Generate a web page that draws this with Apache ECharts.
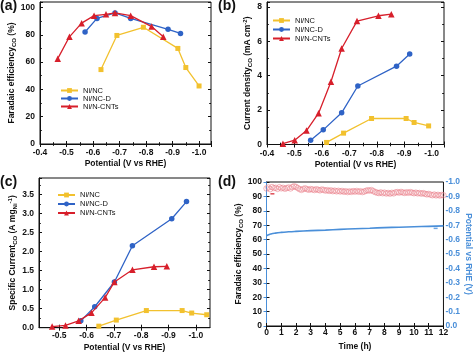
<!DOCTYPE html>
<html><head><meta charset="utf-8">
<script src="https://cdn.jsdelivr.net/npm/echarts@6/dist/echarts.min.js"></script>
<style>html,body{margin:0;padding:0;background:#fff}#c{width:474px;height:353px}</style>
</head><body><div id="c"></div>
<script>
// ---------------- DATA ----------------
const seriesNames = ['Ni/NC', 'Ni/NC-D', 'Ni/N-CNTs'];
// Panel (a): Faradaic efficiency CO (%) vs potential (V vs RHE)
const aPotNC   = [-0.63, -0.69, -0.79, -0.92, -0.95, -1.0];
const aFeNC    = [54.5, 79.5, 85.5, 70, 56, 42.5];
const aPotNCD  = [-0.57, -0.615, -0.683, -0.742, -0.883, -0.93];
const aFeNCD   = [82, 92, 96, 92, 84, 81];
const aPotCNT  = [-0.467, -0.511, -0.557, -0.604, -0.649, -0.683, -0.742, -0.821, -0.865];
const aFeCNT   = [62.5, 78.5, 88.5, 94, 95, 96, 94, 86, 78.5];
// Panel (b): current density CO (mA cm-2)
const bPotNC   = [-0.617, -0.679, -0.781, -0.907, -0.936, -0.989];
const bJNC     = [0.12, 0.66, 1.51, 1.51, 1.28, 1.08];
const bPotNCD  = [-0.559, -0.605, -0.672, -0.731, -0.872, -0.92];
const bJNCD    = [0.25, 0.85, 1.84, 3.40, 4.55, 5.26];
const bPotCNT  = [-0.458, -0.501, -0.544, -0.588, -0.633, -0.672, -0.728, -0.806, -0.853];
const bJCNT    = [0.05, 0.25, 0.81, 1.82, 3.65, 5.58, 7.17, 7.48, 7.57];
// Panel (c): specific current CO (A mgNi-1)
const cPotNC   = [-0.645, -0.709, -0.819, -0.95, -0.985, -1.04];
const cINC     = [0.04, 0.2, 0.45, 0.45, 0.385, 0.34];
const cPotNCD  = [-0.579, -0.63, -0.702, -0.768, -0.912, -0.966];
const cINCD    = [0.18, 0.55, 1.2, 2.15, 2.86, 3.31];
const cPotCNT  = [-0.474, -0.523, -0.571, -0.618, -0.668, -0.702, -0.768, -0.847, -0.894];
const cICNT    = [0.03, 0.06, 0.18, 0.39, 0.79, 1.2, 1.52, 1.6, 1.61];
// Panel (d): stability
const dTime = [0,0.125,0.25,0.375,0.5,0.625,0.75,0.875,1,1.125,1.25,1.375,1.5,1.625,1.75,1.875,2,2.125,2.25,2.375,2.5,2.625,2.75,2.875,3,3.125,3.25,3.375,3.5,3.625,3.75,3.875,4,4.125,4.25,4.375,4.5,4.625,4.75,4.875,5,5.125,5.25,5.375,5.5,5.625,5.75,5.875,6,6.125,6.25,6.375,6.5,6.625,6.75,6.875,7,7.125,7.25,7.375,7.5,7.625,7.75,7.875,8,8.125,8.25,8.375,8.5,8.625,8.75,8.875,9,9.125,9.25,9.375,9.5,9.625,9.75,9.875,10,10.125,10.25,10.375,10.5,10.625,10.75,10.875,11,11.125,11.25,11.375,11.5,11.625,11.75,11.875,12];
const dFE = [95.5,96.2,95.0,96.5,95.8,96.0,95.2,96.4,
             95.6,96.0,95.3,95.8,96.2,95.5,96.5,97.0,
             96.6,95.8,95.0,94.5,95.2,95.6,95.0,94.6,
             95.1,94.8,94.4,95.0,94.6,94.2,94.8,94.5,
             94.0,94.4,93.8,94.2,93.6,94.0,93.5,93.9,
             93.4,93.8,93.2,93.6,93.0,93.5,93.1,93.7,
             93.3,93.8,93.2,93.6,93.0,93.4,93.9,94.3,
             94.0,94.4,93.6,93.0,92.6,92.3,92.8,92.2,
             92.6,92.0,92.4,91.9,92.5,92.1,92.8,93.0,
             92.6,93.1,92.7,92.4,92.9,92.5,93.0,92.6,
             92.2,92.6,92.1,92.4,91.9,92.3,91.8,91.4,
             91.7,91.2,90.8,91.3,90.7,91.1,90.6,91.0,
             90.8];
const dTimeV = [0, 0.1, 0.3, 0.6, 1, 1.5, 2, 3, 4, 5, 6, 7, 8, 9, 10, 11, 12];
const dPotV  = [-0.625, -0.632, -0.639, -0.645, -0.65, -0.654, -0.657, -0.662, -0.666, -0.671, -0.675, -0.679, -0.683, -0.686, -0.689, -0.692, -0.695];
const dStrayFE  = [[0.4, 91.8]];
const dStrayPot = [[11.47, -0.678]];
const potTicks = [-0.4, -0.5, -0.6, -0.7, -0.8, -0.9, -1.0];

// ---------------- STYLE ----------------
const FONT = '"Liberation Sans", Arial, sans-serif';
const INK = '#111';
const COL = {nc: '#f2c12e', ncd: '#2f63c6', cnt: '#d71f2b'};
const SYM = {nc: ['rect', 5], ncd: ['circle', 5.5], cnt: ['triangle', 6.5]};
const lab = (extra) => Object.assign({fontFamily: FONT, fontSize: 8.5, fontWeight: 'bold', color: INK}, extra || {});
const rich = (c) => ({
  b: {fontFamily: FONT, fontSize: 8.5, fontWeight: 'bold', color: c, lineHeight: 11, verticalAlign: 'middle'},
  s: {fontFamily: FONT, fontSize: 6, fontWeight: 'bold', color: c, lineHeight: 6, verticalAlign: 'bottom'},
  p: {fontFamily: FONT, fontSize: 6, fontWeight: 'bold', color: c, lineHeight: 6, verticalAlign: 'top'}
});
const negFmt = v => {
  const k = Math.round(v * 10);
  if (Math.abs(v * 10 - k) > 1e-6) return '';
  return '-' + (k / 10).toFixed(1);
};
const mag = potTicks.map(v => -v);

const xAxes = [], yAxes = [];
function tick(color) { return {show: true, inside: true, length: 3, lineStyle: {color: color || INK, width: 1}}; }
function minor(n, color) { return {show: true, splitNumber: n, length: 1.8, lineStyle: {color: color || INK, width: 1}}; }

function addPanel(g, xc, yc) {
  xAxes.push(Object.assign({
    type: 'value', gridIndex: g, position: 'bottom',
    axisLine: {show: true, lineStyle: {color: INK, width: 1}},
    axisTick: tick(), splitLine: {show: false},
    nameLocation: 'middle', nameTextStyle: lab()
  }, xc.main));
  xAxes.push(Object.assign({
    type: 'value', gridIndex: g, position: 'top',
    axisLine: {show: false}, axisLabel: {show: false},
    axisTick: tick(), splitLine: {show: false}
  }, xc.mirror));
  yAxes.push(Object.assign({
    type: 'value', gridIndex: g, position: 'left',
    axisLine: {show: true, lineStyle: {color: INK, width: 1}},
    axisTick: tick(), splitLine: {show: false},
    nameLocation: 'middle'
  }, yc.main));
  yAxes.push(Object.assign({
    type: 'value', gridIndex: g, position: 'right',
    axisLine: {show: false}, axisLabel: {show: false},
    axisTick: tick(), splitLine: {show: false}
  }, yc.mirror));
}

// panel a
addPanel(0,
  {main: {min: 0.4, max: 1.045, interval: 0.1, minorTick: minor(2),
          axisLabel: lab({margin: 4.5, formatter: negFmt, showMaxLabel: false}),
          name: 'Potential (V vs RHE)', nameGap: 15.5},
   mirror: {min: 0.4, max: 1.045, interval: 0.1, minorTick: minor(2)}},
  {main: {min: 0, max: 104, interval: 20, minorTick: minor(2),
          axisLabel: lab({margin: 5, showMaxLabel: false, formatter: v => (v % 20 === 0 ? String(v) : '')}),
          name: '{b|Faradaic efficiency}{s|CO}{b| (%)}', nameGap: 19.5, nameTextStyle: {rich: rich(INK)}},
   mirror: {min: 0, max: 104, interval: 20, minorTick: minor(2)}});
// panel b
addPanel(1,
  {main: {min: 0.4, max: 1.045, interval: 0.1, minorTick: minor(2),
          axisLabel: lab({margin: 4.5, formatter: negFmt, showMaxLabel: false}),
          name: 'Potential (V vs RHE)', nameGap: 15.5},
   mirror: {min: 0.4, max: 1.045, interval: 0.1, minorTick: minor(2)}},
  {main: {min: 0, max: 8.28, interval: 2, minorTick: minor(2),
          axisLabel: lab({margin: 5, showMaxLabel: false, formatter: v => (Math.abs(v - Math.round(v)) < 1e-6 ? String(Math.round(v)) : '')}),
          name: '{b|Current density}{s|CO}{b| (mA cm}{p|-2}{b|)}', nameGap: 11, nameTextStyle: {rich: rich(INK)}},
   mirror: {min: 0, max: 8.28, interval: 2, minorTick: minor(2)}});
// panel c
const cMag = mag.slice(1);
addPanel(2,
  {main: {min: 0.426, max: 1.052,
          axisTick: Object.assign(tick(), {customValues: cMag}),
          axisLabel: lab({margin: 3, formatter: negFmt, customValues: cMag}),
          name: 'Potential (V vs RHE)', nameGap: 15.3},
   mirror: {min: 0.426, max: 1.052, axisTick: Object.assign(tick(), {customValues: cMag})}},
  {main: {min: 0, max: 3.93, interval: 0.5, minorTick: minor(2),
          axisLabel: lab({margin: 5, showMaxLabel: false, formatter: v => (Math.abs(v * 2 - Math.round(v * 2)) < 1e-6 ? v.toFixed(1) : '')}),
          name: '{b|Specific Current}{s|CO}{b| (A mg}{s|Ni}{p|-1}{b|)}', nameGap: 20.5, nameTextStyle: {rich: rich(INK)}},
   mirror: {min: 0, max: 3.93, interval: 0.5, minorTick: minor(2)}});
// panel d
const BLUE_D = '#4a8fd9';
xAxes.push({type: 'value', gridIndex: 3, position: 'bottom', min: 0, max: 12, interval: 1,
  axisLine: {show: true, lineStyle: {color: INK, width: 1}}, axisTick: tick(), splitLine: {show: false},
  axisLabel: lab({margin: 2.5}), name: 'Time (h)', nameLocation: 'middle', nameGap: 15.8, nameTextStyle: lab()});
xAxes.push({type: 'value', gridIndex: 3, position: 'top', min: 0, max: 12, interval: 1,
  axisLine: {show: false}, axisLabel: {show: false}, axisTick: tick(), splitLine: {show: false}});
yAxes.push({type: 'value', gridIndex: 3, position: 'left', min: 0, max: 100, interval: 10,
  axisLine: {show: true, lineStyle: {color: INK, width: 1}}, axisTick: tick(), splitLine: {show: false},
  axisLabel: lab({margin: 4.5}),
  name: '{b|Faradaic efficiency}{s|CO}{b| (%)}', nameLocation: 'middle', nameGap: 19.5, nameTextStyle: {rich: rich(INK)}});
yAxes.push({type: 'value', gridIndex: 3, position: 'right', min: -1, max: 0, interval: 0.1, inverse: true,
  axisLine: {show: true, lineStyle: {color: BLUE_D, width: 1}}, axisTick: tick(BLUE_D), splitLine: {show: false},
  axisLabel: lab({margin: 2, color: BLUE_D, formatter: v => (Math.abs(v) < 1e-9 ? 0 : v).toFixed(1)}),
  name: 'Potential vs RHE (V)', nameLocation: 'middle', nameGap: 19.5, nameRotate: -90,
  nameTextStyle: lab({color: BLUE_D})});

// ---------------- SERIES ----------------
function pts(xs, ys) { return xs.map((x, i) => [-x, ys[i]]); }
function ser(name, key, xi, data) {
  return {type: 'line', name, xAxisIndex: xi * 2, yAxisIndex: xi * 2, data,
    symbol: SYM[key][0], symbolSize: SYM[key][1], showSymbol: true,
    lineStyle: {color: COL[key], width: 1.3}, itemStyle: {color: COL[key]}, animation: false, z: key === 'cnt' ? 4 : 3};
}
const series = [
  ser('Ni/NC', 'nc', 0, pts(aPotNC, aFeNC)),
  ser('Ni/NC-D', 'ncd', 0, pts(aPotNCD, aFeNCD)),
  ser('Ni/N-CNTs', 'cnt', 0, pts(aPotCNT, aFeCNT)),
  ser('Ni/NC', 'nc', 1, pts(bPotNC, bJNC)),
  ser('Ni/NC-D', 'ncd', 1, pts(bPotNCD, bJNCD)),
  ser('Ni/N-CNTs', 'cnt', 1, pts(bPotCNT, bJCNT)),
  ser('Ni/NC', 'nc', 2, pts(cPotNC, cINC)),
  ser('Ni/NC-D', 'ncd', 2, pts(cPotNCD, cINCD)),
  ser('Ni/N-CNTs', 'cnt', 2, pts(cPotCNT, cICNT)),
  {type: 'scatter', name: 'FE', xAxisIndex: 6, yAxisIndex: 6, data: dTime.map((t, i) => [t, dFE[i]]),
   symbol: 'circle', symbolSize: 5.5, itemStyle: {color: 'rgba(255,255,255,0)', borderColor: '#ea7f8a', borderWidth: 0.7}, animation: false},
  {type: 'line', name: 'Potential', xAxisIndex: 6, yAxisIndex: 7, data: dTimeV.map((t, i) => [t, dPotV[i]]),
   symbol: 'none', smooth: true, lineStyle: {color: BLUE_D, width: 1.6}, animation: false},
  {type: 'scatter', name: 'strayFE', xAxisIndex: 6, yAxisIndex: 6, data: dStrayFE, symbol: 'rect', symbolSize: [4, 1.5],
   itemStyle: {color: '#d71f2b'}, animation: false},
  {type: 'scatter', name: 'strayPot', xAxisIndex: 6, yAxisIndex: 7, data: dStrayPot, symbol: 'rect', symbolSize: [4, 1.5],
   itemStyle: {color: BLUE_D}, animation: false}
];

const legendBase = {orient: 'vertical', itemWidth: 17, itemHeight: 6, padding: 0, data: seriesNames,
  selectedMode: false, textStyle: {fontFamily: FONT, fontSize: 7.5, color: INK, lineHeight: 8}};

const chart = echarts.init(document.getElementById('c'), null, {renderer: 'canvas'});
chart.setOption({
  backgroundColor: '#fff',
  animation: false,
  grid: [
    {left: 40, top: 2, width: 171, height: 142, show: true, borderColor: INK, borderWidth: 1, backgroundColor: 'transparent'},
    {left: 267, top: 2, width: 177, height: 142.5, show: true, borderColor: INK, borderWidth: 1, backgroundColor: 'transparent'},
    {left: 39, top: 178, width: 171, height: 149.7, show: true, borderColor: INK, borderWidth: 1, backgroundColor: 'transparent'},
    {left: 266.5, top: 182, width: 178, height: 144, show: true, borderColor: INK, borderWidth: 1, backgroundColor: 'transparent'}
  ],
  xAxis: xAxes,
  yAxis: yAxes,
  legend: [
    Object.assign({left: 60, top: 86.5, itemGap: 0}, legendBase),
    Object.assign({left: 272, top: 16.5, itemGap: 1}, legendBase),
    Object.assign({left: 57, top: 191, itemGap: 1}, legendBase)
  ],
  series,
  graphic: [
    {type: 'text', left: 0, top: -1, style: {text: '(a)', font: 'bold 14px ' + FONT, fill: INK}},
    {type: 'text', left: 218, top: -1, style: {text: '(b)', font: 'bold 14px ' + FONT, fill: INK}},
    {type: 'text', left: 0, top: 175, style: {text: '(c)', font: 'bold 14px ' + FONT, fill: INK}},
    {type: 'text', left: 218, top: 175, style: {text: '(d)', font: 'bold 14px ' + FONT, fill: INK}}
  ]
});
</script>
</body></html>
